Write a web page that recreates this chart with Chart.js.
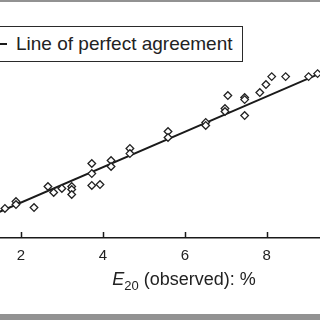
<!DOCTYPE html>
<html>
<head>
<meta charset="utf-8">
<script src="https://cdn.jsdelivr.net/npm/chart.js@4.4.0/dist/chart.umd.min.js"></script>
<style>
  html, body { margin: 0; padding: 0; background: #fff; }
  body { width: 320px; height: 320px; overflow: hidden; position: relative; font-family: "Liberation Sans", Arial, sans-serif; }
  #wrap { position: absolute; left: 0; top: 0; width: 368px; height: 314px; }
  .bar { position: absolute; left: 0; width: 320px; background: #929292; }
  #legend { position: absolute; left: -40px; top: 26px; width: 283px; height: 36px; box-sizing: border-box;
            border: 1.5px solid #2a2a2a; background: #fff; }
  #legend .sample { position: absolute; left: 18px; top: 16px; width: 28px; height: 2px; background: #1a1a1a; }
  #legend .txt { position: absolute; left: 55px; top: 5px; font-size: 19px; line-height: 23px; color: #222; white-space: nowrap; }
</style>
</head>
<body>
<div id="wrap"><canvas id="chart"></canvas></div>
<div id="legend"><span class="sample"></span><span class="txt"></span></div>
<div class="bar" style="top:0;height:2px"></div>
<div class="bar" style="top:314px;height:6px"></div>
<script>
// datos
const observed = [1.61, 1.88, 1.88, 2.32, 2.66, 2.80, 3.00, 3.24, 3.24, 3.24, 3.73, 3.73, 3.73, 3.93, 4.20, 4.20,
  4.66, 4.66, 5.59, 5.59, 6.51, 6.51, 6.98, 6.98, 7.05, 7.46, 7.46, 7.46, 7.83, 7.98, 8.12, 8.46, 9.02, 9.24];
const predicted = [1.67, 2.06, 1.89, 1.72, 2.91, 2.57, 2.80, 2.91, 2.74, 2.46, 4.21, 3.64, 2.97, 3.02, 4.38, 4.04,
  5.06, 4.77, 6.02, 5.68, 6.53, 6.36, 7.32, 7.15, 8.05, 7.94, 7.82, 6.92, 8.22, 8.67, 9.12, 9.12, 9.12, 9.29];
const agreeLine = [0, 11];
const xTicks = [2, 4, 6, 8];
const lineLabel = 'Line of perfect agreement';

document.querySelector('#legend .txt').textContent = lineLabel;

// ticks hacia adentro + titulo del eje con subindice
const axisExtras = {
  id: 'axisExtras',
  afterDraw(chart) {
    const { ctx, chartArea, scales: { x } } = chart;
    ctx.save();
    ctx.strokeStyle = '#1a1a1a';
    ctx.lineWidth = 1.5;
    xTicks.forEach(v => {
      const px = Math.round(x.getPixelForValue(v)) + 0.5;
      ctx.beginPath();
      ctx.moveTo(px, chartArea.bottom);
      ctx.lineTo(px, chartArea.bottom - 6);
      ctx.stroke();
    });

    const fam = '"Liberation Sans", Arial, sans-serif';
    const parts = [
      { t: 'E', f: 'italic 18px ' + fam, dy: 0 },
      { t: '20', f: '13px ' + fam, dy: 5 },
      { t: ' (observed): %', f: '18px ' + fam, dy: 0 }
    ];
    let total = 0;
    parts.forEach(p => { ctx.font = p.f; p.w = ctx.measureText(p.t).width; total += p.w; });
    let cx = (chartArea.left + chartArea.right) / 2 - total / 2;
    const base = chartArea.bottom + 47;
    ctx.fillStyle = '#222';
    ctx.textBaseline = 'alphabetic';
    parts.forEach(p => { ctx.font = p.f; ctx.fillText(p.t, cx, base + p.dy); cx += p.w; });
    ctx.restore();
  }
};

new Chart(document.getElementById('chart'), {
  type: 'scatter',
  data: {
    datasets: [
      {
        label: 'E20',
        data: observed.map((v, i) => ({ x: v, y: predicted[i] })),
        pointStyle: 'rectRot',
        pointRadius: 3.8,
        borderWidth: 1.3,
        borderColor: '#222',
        backgroundColor: '#fff'
      },
      {
        type: 'line',
        label: lineLabel,
        data: agreeLine.map(v => ({ x: v, y: v })),
        borderColor: '#1a1a1a',
        borderWidth: 2,
        pointRadius: 0
      }
    ]
  },
  options: {
    responsive: true,
    maintainAspectRatio: false,
    animation: false,
    layout: { padding: 0, autoPadding: false },
    plugins: { legend: { display: false }, tooltip: { enabled: false } },
    scales: {
      x: {
        type: 'linear',
        min: 1.49,
        max: 10.47,
        afterBuildTicks: axis => { axis.ticks = xTicks.map(v => ({ value: v })); },
        afterFit: s => { s.height = 76; s.paddingLeft = 0; s.paddingRight = 0; },
        grid: { drawOnChartArea: false, drawTicks: false },
        border: { display: true, color: '#1a1a1a', width: 1.5 },
        ticks: { color: '#222', padding: 9, font: { size: 15, family: '"Liberation Sans", Arial, sans-serif' } }
      },
      y: { display: false, min: 0, max: 13.45 }
    }
  },
  plugins: [axisExtras]
});
</script>
</body>
</html>
